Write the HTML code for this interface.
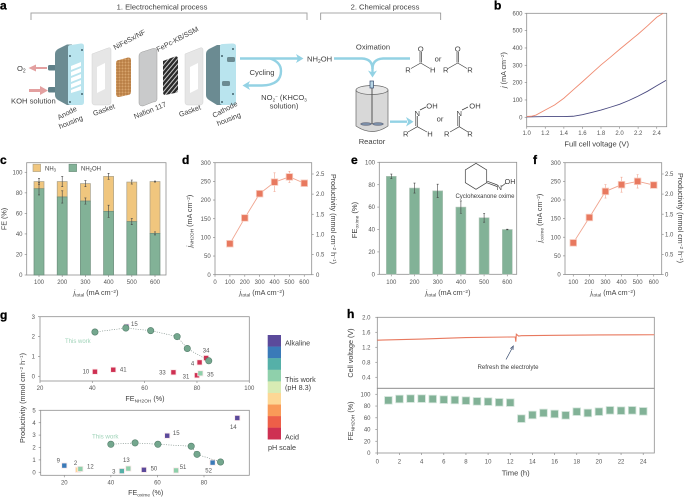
<!DOCTYPE html>
<html lang="en">
<head>
<meta charset="utf-8">
<title>Electrochemical and chemical process figure</title>
<style>
html,body{margin:0;padding:0;background:#fff;width:685px;height:498px;overflow:hidden}
svg{display:block}
text{font-family:"Liberation Sans",sans-serif;fill:#3f3f3f}
.l{font-size:7.6px}
.s{font-size:7.2px}
.p{font-size:12px;font-weight:bold;fill:#000;stroke:#000;stroke-width:.3px}
</style>
</head>
<body>
<svg id="figure" width="685" height="498" viewBox="0 0 685 498" xmlns="http://www.w3.org/2000/svg">
<defs>
<pattern id="mesh" width="3.4" height="3.4" patternUnits="userSpaceOnUse" patternTransform="rotate(40)"><rect width="3.4" height="3.4" fill="#2a2a2a"/><rect x="0" y="0" width="1" height="3.4" fill="#cfcfcf"/></pattern>
<pattern id="foam" width="3" height="3" patternUnits="userSpaceOnUse"><rect width="3" height="3" fill="#c78e54"/><circle cx="1" cy="1" r=".7" fill="#a86f38"/><circle cx="2.4" cy="2.3" r=".5" fill="#e0b481"/></pattern>
</defs>
<rect width="685" height="498" fill="#fff"/>

<!-- Panel a -->
<g id="panel-a">
<text class="p" x="0" y="9.5">a</text>
<path d="M31 20V13H307V20" fill="none" stroke="#a6a6a6" stroke-width="1"/>
<path d="M320.7 20V13H440.7V20" fill="none" stroke="#8c8c8c" stroke-width=".8"/>
<text class="l" x="162" y="9.5" text-anchor="middle">1. Electrochemical process</text>
<text class="l" x="385" y="9.5" text-anchor="middle">2. Chemical process</text>

<g>
<rect x="48" y="65" width="8" height="5.5" rx="1.5" fill="#5f8088"/>
<rect x="48" y="87" width="8" height="5.5" rx="1.5" fill="#5f8088"/>
<path d="M55 54Q55 51 58 49L67 44.5H72V105H67L58 100Q55 98 55 95Z" fill="#6b8b92"/>
<path d="M68 47Q68 45 71 45L81 43.5Q84 43.5 84 46V102Q84 105 81 105H71Q68 105 68 103Z" fill="#b9e4ee"/>
<path d="M71 66L81 62V66L71 70ZM71 72L81 68V72L71 76ZM71 78L81 74V78L71 82ZM71 84L81 80V84L71 88ZM71 90L81 86V90L71 93Z" fill="#fff"/>
<circle cx="70" cy="56" r="1" fill="#44646c"/><circle cx="82" cy="50" r="1" fill="#44646c"/><circle cx="70" cy="102" r="1" fill="#44646c"/><circle cx="82" cy="94" r="1" fill="#44646c"/>
</g>
<path d="M47 67H36V64.5L28.5 68L36 71.5V69H47Z" fill="#e3a0a0"/>
<path d="M29 89H40V86L48 90.5L40 95V92H29Z" fill="#e3a0a0"/>
<text class="l" x="17" y="71">O<tspan dy="1.5" font-size="5">2</tspan></text>
<text class="l" x="11" y="103.5">KOH solution</text>

<g>
<path d="M92 54L108 48Q111 47 111 50V102Q111 105 108 105H95Q92 105 92 102Z" fill="#e6e6e6" stroke="#d2d2d2" stroke-width=".5"/>
<path d="M97 67L105 63V89L97 93Z" fill="#fff"/>
</g>
<path d="M116 62Q117 60 119 60L128 57.5Q131 57.5 131 60V91Q131 95 128 95L119 97Q116 97 116 94Z" fill="url(#foam)"/>
<path d="M139 56Q139 53 142 52L153 48.5Q157 48 157 51V99Q157 102 153 102L143 106Q139 106 139 103Z" fill="#c9cacb" stroke="#9a9a9a" stroke-width=".5"/>
<path d="M163 61L175 56.5Q178 56 178 59V90Q178 93 175 93L165 95Q163 95 163 92Z" fill="url(#mesh)"/>
<g>
<path d="M185 54L200 48Q203 47 203 50V102Q203 105 200 105H188Q185 105 185 102Z" fill="#e6e6e6" stroke="#d2d2d2" stroke-width=".5"/>
<path d="M190 67L198 63V89L190 93Z" fill="#fff"/>
</g>
<g>
<path d="M206 54Q206 51 209 49L217 45H222V105H217L209 100Q206 98 206 95Z" fill="#6b8b92"/>
<path d="M220 46Q220 44 223 44L232 43.5Q236 43.5 236 46V102Q236 105 232 105H223Q220 105 220 103Z" fill="#b9e4ee"/>
<rect x="227" y="57" width="8" height="5" rx="1.5" fill="#6b8b92"/><rect x="222" y="81" width="8" height="5" rx="1.5" fill="#6b8b92"/>
<circle cx="222" cy="56" r="1" fill="#44646c"/><circle cx="233" cy="49" r="1" fill="#44646c"/><circle cx="222" cy="102" r="1" fill="#44646c"/><circle cx="233" cy="94" r="1" fill="#44646c"/>
</g>
<text class="s" transform="translate(115 50) rotate(-28)">NiFeSx/NF</text>
<text class="s" transform="translate(158 52) rotate(-27.5)">FePc-KB/SSM</text>
<text class="s" transform="translate(59 120) rotate(-28)">Anode</text>
<text class="s" transform="translate(60 129) rotate(-22)">housing</text>
<text class="s" transform="translate(94 116) rotate(-20)">Gasket</text>
<text class="s" transform="translate(135 119) rotate(-22)">Nafion 117</text>
<text class="s" transform="translate(180 117) rotate(-20)">Gasket</text>
<text class="s" transform="translate(214 118) rotate(-28)">Cathode</text>
<text class="s" transform="translate(218 126) rotate(-22)">housing</text>

<g fill="none" stroke="#93d2e4" stroke-width="2.4">
<path d="M240 58.5H298"/>
<path d="M270 58.5Q281 62 281 71Q281 85 262 85.5H248"/>
</g>
<path d="M296 54L303.5 58.5L296 63L298 58.5Z" fill="#93d2e4"/>
<path d="M250 81L242.5 85.5L250 90L248 85.5Z" fill="#93d2e4"/>
<text class="l" x="262" y="75" text-anchor="middle">Cycling</text>
<text class="l" x="307" y="61.5">NH<tspan dy="1.5" font-size="5">2</tspan><tspan dy="-1.5">OH</tspan></text>
<text class="l" x="284" y="100" text-anchor="middle">NO<tspan dy="1.5" font-size="4.5">2</tspan><tspan dy="-3.5" font-size="4.5">−</tspan><tspan dy="2"> (KHCO</tspan><tspan dy="1.5" font-size="4.5">3</tspan></text>
<text class="l" x="284" y="108.5" text-anchor="middle">solution)</text>
<text class="l" x="373" y="49.5" text-anchor="middle">Oximation</text>
<g fill="none" stroke="#93d2e4" stroke-width="2.4">
<path d="M334 58.5H362Q372.5 59 372.5 69V74"/>
<path d="M410 58.5H383Q372.5 59 372.5 69"/>
<path d="M390 121.7H407"/>
</g>
<path d="M368 70.5L372.5 77.5L377 70.5L372.5 72.5Z" fill="#93d2e4"/>
<path d="M406 117L413.5 121.7L406 126.5L408 121.7Z" fill="#93d2e4"/>
<g>
<path d="M356 90Q372 82 388 90V126Q372 137 356 126Z" fill="#d8d8d8" stroke="#666" stroke-width=".7"/>
<ellipse cx="372" cy="90" rx="16" ry="4.5" fill="#e6e6e6" stroke="#666" stroke-width=".7"/>
<line x1="372" y1="86" x2="372" y2="124" stroke="#555" stroke-width="1"/>
<rect x="370" y="81" width="3.5" height="7" fill="#b7d6e6" stroke="#34486c" stroke-width=".7"/>
<ellipse cx="366" cy="124" rx="5.5" ry="1.4" fill="#7b8ea8" stroke="#445" stroke-width=".4"/>
<ellipse cx="378" cy="124" rx="5.5" ry="1.4" fill="#7b8ea8" stroke="#445" stroke-width=".4"/>
</g>
<text class="l" x="372" y="144" text-anchor="middle">Reactor</text>

<g fill="none" stroke="#3f3f3f" stroke-width=".7">
<path d="M420 52V62.5M421.5 52V62.5M420.7 63L411 68.5M420.7 63L430 68.5"/>
<path d="M457 52V62.5M458.5 52V62.5M457.7 63L448 68.5M457.7 63L467 68.5"/>
<path d="M420 110L426 107M417.3 116V126.5M415.8 116V126M417.3 126.7L408 132M417.3 126.7L427 132"/>
<path d="M462 110L468 107M459.3 116V126.5M457.8 116V126M459.3 126.7L450 132M459.3 126.7L468 132"/>
</g>
<g>
<text class="l" x="420.7" y="51.5" text-anchor="middle">O</text>
<text class="l" x="408" y="72.5" text-anchor="middle">R</text>
<text class="l" x="432.7" y="72.5" text-anchor="middle">H</text>
<text class="l" x="438" y="61.5" text-anchor="middle">or</text>
<text class="l" x="457.7" y="51.5" text-anchor="middle">O</text>
<text class="l" x="445.7" y="72.5" text-anchor="middle">R</text>
<text class="l" x="470" y="72.5" text-anchor="middle">R</text>
<text class="l" x="417.3" y="116" text-anchor="middle">N</text>
<text class="l" x="432" y="108.5" text-anchor="middle">OH</text>
<text class="l" x="405.7" y="136.5" text-anchor="middle">R</text>
<text class="l" x="430" y="136.5" text-anchor="middle">H</text>
<text class="l" x="440" y="121.5" text-anchor="middle">or</text>
<text class="l" x="459.3" y="116" text-anchor="middle">N</text>
<text class="l" x="475" y="108.5" text-anchor="middle">OH</text>
<text class="l" x="446.7" y="136.5" text-anchor="middle">R</text>
<text class="l" x="470" y="136.5" text-anchor="middle">R</text>
</g>
</g>

<!-- Static labels for the charts -->
<g>
<text class="p" x="494" y="9.5">b</text>
<text class="p" x="0" y="164">c</text>
<text class="p" x="182" y="164">d</text>
<text class="p" x="351" y="164">e</text>
<text class="p" x="533" y="164">f</text>
<text class="p" x="0" y="319">g</text>
<text class="p" x="347" y="318">h</text>

<text class="s" transform="translate(506 70) rotate(-90)" text-anchor="middle"><tspan font-style="italic">j</tspan> (mA cm<tspan dy="-2" font-size="4.8">−2</tspan><tspan dy="2">)</tspan></text>
<text class="l" x="596.7" y="146.5" text-anchor="middle">Full cell voltage (V)</text>

<text class="s" transform="translate(6.5 219) rotate(-90)" text-anchor="middle">FE (%)</text>
<text class="s" x="96" y="295" text-anchor="middle"><tspan font-style="italic">j</tspan><tspan dy="1.5" font-size="4.8">total</tspan><tspan dy="-1.5"> (mA cm</tspan><tspan dy="-2" font-size="4.8">−2</tspan><tspan dy="2">)</tspan></text>
<text x="45" y="170.5" font-size="6">NH<tspan dy="1.2" font-size="4.2">3</tspan></text>
<text x="81" y="170.5" font-size="6">NH<tspan dy="1.2" font-size="4.2">2</tspan><tspan dy="-1.2">OH</tspan></text>

<text class="s" transform="translate(192 221) rotate(-90)" text-anchor="middle"><tspan font-style="italic">j</tspan><tspan dy="1.5" font-size="4.8">NH2OH</tspan><tspan dy="-1.5"> (mA cm</tspan><tspan dy="-2" font-size="4.8">−2</tspan><tspan dy="2">)</tspan></text>
<text class="s" transform="translate(331 219) rotate(90)" text-anchor="middle">Productivity (mmol cm<tspan dy="-2" font-size="4.8">−2</tspan><tspan dy="2"> h</tspan><tspan dy="-2" font-size="4.8">−1</tspan><tspan dy="2">)</tspan></text>
<text class="s" x="262" y="295" text-anchor="middle"><tspan font-style="italic">j</tspan><tspan dy="1.5" font-size="4.8">total</tspan><tspan dy="-1.5"> (mA cm</tspan><tspan dy="-2" font-size="4.8">−2</tspan><tspan dy="2">)</tspan></text>

<text class="l" transform="translate(357 220) rotate(-90)" text-anchor="middle">FE<tspan dy="1.5" font-size="4.8">oxime</tspan><tspan dy="-1.5"> (%)</tspan></text>
<text class="s" x="448" y="295" text-anchor="middle"><tspan font-style="italic">j</tspan><tspan dy="1.5" font-size="4.8">total</tspan><tspan dy="-1.5"> (mA cm</tspan><tspan dy="-2" font-size="4.8">−2</tspan><tspan dy="2">)</tspan></text>
<g fill="none" stroke="#3f3f3f" stroke-width=".7">
<path d="M476 163.3L486.7 170V182.7L476 189.3L465.3 182.7V170ZM486.7 182.7L497 186.5M487.2 181.2L497.5 185M501.5 186.5L506 183"/>
</g>
<text class="s" x="499.3" y="190" text-anchor="middle">N</text>
<text class="s" x="510" y="184" text-anchor="middle">OH</text>
<text x="485" y="198" font-size="6" text-anchor="middle">Cyclohexanone oxime</text>

<text class="s" transform="translate(542 218) rotate(-90)" text-anchor="middle"><tspan font-style="italic">j</tspan><tspan dy="1.5" font-size="4.8">oxime</tspan><tspan dy="-1.5"> (mA cm</tspan><tspan dy="-2" font-size="4.8">−2</tspan><tspan dy="2">)</tspan></text>
<text class="s" transform="translate(678 218) rotate(90)" text-anchor="middle">Productivity (mmol cm<tspan dy="-2" font-size="4.8">−2</tspan><tspan dy="2"> h</tspan><tspan dy="-2" font-size="4.8">−1</tspan><tspan dy="2">)</tspan></text>
<text class="s" x="613" y="295" text-anchor="middle"><tspan font-style="italic">j</tspan><tspan dy="1.5" font-size="4.8">total</tspan><tspan dy="-1.5"> (mA cm</tspan><tspan dy="-2" font-size="4.8">−2</tspan><tspan dy="2">)</tspan></text>

<text class="s" transform="translate(25 398) rotate(-90)" text-anchor="middle">Productivity (mmol cm<tspan dy="-2" font-size="4.8">−2</tspan><tspan dy="2"> h</tspan><tspan dy="-2" font-size="4.8">−1</tspan><tspan dy="2">)</tspan></text>
<text class="s" x="145" y="401" text-anchor="middle">FE<tspan dy="1.5" font-size="4.8">NH2OH</tspan><tspan dy="-1.5"> (%)</tspan></text>
<text class="s" x="145.7" y="495" text-anchor="middle">FE<tspan dy="1.5" font-size="4.8">oxime</tspan><tspan dy="-1.5"> (%)</tspan></text>
<text x="65" y="343" font-size="6" style="fill:#9fd3b8">This work</text>
<text x="92" y="438.5" font-size="6.2" style="fill:#9fd3b8">This work</text>

<text class="s" x="285" y="345.5">Alkaline</text>
<text class="s" x="285" y="382">This work</text>
<text class="s" x="285" y="390">(pH 8.3)</text>
<text class="s" x="285" y="439.5">Acid</text>
<text class="s" x="268" y="450">pH scale</text>

<text class="s" transform="translate(353 353) rotate(-90)" text-anchor="middle">Cell voltage (V)</text>
<text class="s" transform="translate(353 421) rotate(-90)" text-anchor="middle">FE<tspan dy="1.5" font-size="4.8">NH2OH</tspan><tspan dy="-1.5"> (%)</tspan></text>
<text class="l" x="515.7" y="475.5" text-anchor="middle">Time (h)</text>
<text x="508" y="369" font-size="6.1" text-anchor="middle">Refresh the electrolyte</text>
<path d="M506 359.5L512.5 347.5M510.3 348.6L513.3 346L513 350" fill="none" stroke="#34486c" stroke-width=".7"/>
</g>

<g id="charts"></g>

<script>
// ---------- Chart data ----------
const currentCategories = [100, 200, 300, 400, 500, 600];

const bVoltageOrange = [1.0, 1.05, 1.1, 1.2, 1.3, 1.4, 1.5, 1.6, 1.7, 1.8, 1.9, 2.0, 2.1, 2.2, 2.3, 2.4, 2.47];
const bCurrentOrange = [5, 6, 13, 42, 71, 110, 158, 205, 254, 302, 346, 392, 436, 480, 527, 577, 600];
const bVoltageBlue = [1.0, 1.2, 1.4, 1.5, 1.6, 1.7, 1.8, 1.9, 2.0, 2.1, 2.2, 2.3, 2.4, 2.5];
const bCurrentBlue = [2, 4, 4, 6, 15, 28, 42, 58, 75, 97, 122, 150, 182, 213];
const bXTicks = ['1.0', '1.2', '1.4', '1.6', '1.8', '2.0', '2.2', '2.4'];
const bYTicks = [0, 100, 200, 300, 400, 500, 600];

const cNh2oh = [84, 76, 72, 62, 52, 40.5];
const cNh2ohErr = [6, 6, 3, 6, 3, 1.5];
const cTotal = [91, 91, 89, 96, 90.5, 91];
const cTotalErr = [3, 5, 3, 3, 2, 0.5];
const feTicks = [0, 20, 40, 60, 80, 100];

const dCurrent = [83, 152, 217, 248, 262, 245];
const dErr = [3, 8, 5, 25, 15, 5];
const dXTicks = [0, 100, 200, 300, 400, 500, 600];
const jYTicks = [0, 50, 100, 150, 200, 250, 300];
const productivityTicks = ['0', '0.5', '1.0', '1.5', '2.0', '2.5'];

const eFe = [87.5, 77, 74.5, 60, 50.5, 40];
const eErr = [2, 4.5, 6, 5.5, 4, 0.3];

const fCurrent = [85, 153, 223, 241, 250, 240];
const fErr = [5, 8, 18, 20, 18, 5];

const gTopWorkFe = [41, 52.8, 62.3, 72.4, 76.3, 84.5];
const gTopWorkProd = [2.23, 2.43, 2.3, 2.0, 1.4, 0.78];
const gTopRefFe = [53, 41, 48, 71, 80, 81, 83.5, 81.3];
const gTopRefProd = [2.5, 0.23, 0.33, 0.2, 0.05, 0.7, 0.92, 0.15];
const gTopRefLabels = ['15', '10', '41', '33', '31', '4', '34', '35'];
const gTopRefColors = ['#5b4a9b', '#ce3052', '#ce3052', '#ce3052', '#ce3052', '#ce3052', '#ce3052', '#8fd0ab'];
const gTopXTicks = [20, 40, 60, 80, 100];
const gTopYTicks = [0, 1, 2, 3];

const gBotWorkFe = [40, 50.4, 60.2, 74.5, 77, 87.1];
const gBotWorkProd = [2.26, 2.37, 2.26, 2.1, 1.45, 0.83];
const gBotRefFe = [20, 25.9, 26.9, 44.7, 47.5, 54.2, 64.2, 68, 83.7, 94.3];
const gBotRefProd = [0.54, 0.2, 0.27, 0.1, 0.3, 0.2, 2.95, 0.15, 0.78, 4.38];
const gBotRefLabels = ['9', '2', '12', '3', '13', '50', '15', '51', '52', '14'];
const gBotRefColors = ['#3a7ab8', '#fdd795', '#8fd0ab', '#55b0a8', '#8fd0ab', '#5b4a9b', '#5b4a9b', '#8fd0ab', '#3a7ab8', '#5b4a9b'];
const gBotXTicks = [20, 40, 60, 80];
const gBotYTicks = [0, 1, 2, 3, 4, 5];

const phColors = ['#5b4a9b', '#3a7ab8', '#55b0a8', '#8fd0ab', '#d8ebb4', '#fdd795', '#f99a58', '#ed5f48', '#ce3052'];

const hLineTime = [0, 4, 8, 12, 12.45, 12.5, 12.55, 12.75, 13, 16, 20, 25];
const hLineVoltage = [1.39, 1.42, 1.46, 1.475, 1.475, 1.35, 1.55, 1.5, 1.51, 1.52, 1.53, 1.535];
const hVoltageTicks = ['0.4', '0.8', '1.2', '1.6', '2.0'];
const hFeHours = [1, 2, 3, 4, 5, 6, 7, 8, 9, 10, 11, 12, 13, 14, 15, 16, 17, 18, 19, 20, 21, 22, 23, 24];
const hFeValues = [89.7, 92, 92.6, 92.6, 92, 90.9, 90.3, 89.2, 88, 87.5, 86.3, 85.8, 58.5, 64.8, 68.2, 66.5, 64.2, 70.4, 68.2, 70.4, 72.7, 72.1, 72.7, 71];
const hTimeTicks = [0, 2, 4, 6, 8, 10, 12, 14, 16, 18, 20, 22, 24];
const hFeTicks = [0, 20, 40, 60, 80, 100];

// ---------- Helpers ----------
const NS = 'http://www.w3.org/2000/svg';
const charts = document.getElementById('charts');
const AXIS = '#8e8e8e';
const TICK = '#555555';
const GREEN = '#82b297';
const ORANGE = '#e8795f';

function scale(d0, d1, r0, r1) {
  return function (v) { return r0 + (v - d0) / (d1 - d0) * (r1 - r0); };
}
function make(parent, tag, attrs) {
  const e = document.createElementNS(NS, tag);
  for (const k in attrs) e.setAttribute(k, attrs[k]);
  parent.appendChild(e);
  return e;
}
function label(parent, x, y, s, anchor, size, fill) {
  const t = make(parent, 'text', { x: x, y: y, 'text-anchor': anchor, 'font-size': size || 6 });
  t.style.fill = fill || TICK;
  t.textContent = s;
  
  
  return t;
}
function panel(name) {
  const g = make(charts, 'g', {});
  
  
  return g;
}
function frame(g, x0, y0, x1, y1) {
  const r = make(g, 'rect', { x: x0, y: y0, width: x1 - x0, height: y1 - y0, fill: 'none', stroke: AXIS, 'stroke-width': 0.8 });
  
  
}
function xTicks(g, ticks, sx, axisY, textY) {
  ticks.forEach(function (v) {
    const x = sx(parseFloat(v));
    const l = make(g, 'line', { x1: x, x2: x, y1: axisY, y2: axisY + 2, stroke: AXIS, 'stroke-width': 0.7 });
    
    
    const t = label(g, x, textY, String(v), 'middle');
    
  });
}
function yTicks(g, ticks, sy, axisX, textX, side) {
  ticks.forEach(function (v) {
    const y = sy(parseFloat(v));
    const dir = side === 'right' ? 2 : -2;
    const l = make(g, 'line', { x1: axisX, x2: axisX + dir, y1: y, y2: y, stroke: AXIS, 'stroke-width': 0.7 });
    
    
    const t = label(g, textX, y + 2.1, String(v), side === 'right' ? 'start' : 'end');
    
  });
}
function polyline(g, xs, ys, sx, sy, color, width) {
  const pts = xs.map(function (v, i) { return sx(v).toFixed(2) + ',' + sy(ys[i]).toFixed(2); }).join(' ');
  return make(g, 'polyline', { points: pts, fill: 'none', stroke: color, 'stroke-width': width });
}
function errorBar(g, x, hi, lo, color) {
  const p = make(g, 'path', { d: 'M' + (x - 1) + ' ' + hi + 'H' + (x + 1) + 'M' + x + ' ' + hi + 'V' + lo + 'M' + (x - 1) + ' ' + lo + 'H' + (x + 1), fill: 'none', stroke: color, 'stroke-width': 0.6 });
  
  
}
function square(g, cx, cy, size, fill, edge) {
  return make(g, 'rect', { x: cx - size / 2, y: cy - size / 2, width: size, height: size, fill: fill, stroke: edge, 'stroke-width': 0.8 });
}

// ---------- Panel b ----------
(function () {
  const g = panel('voltage-current-chart');
  const sx = scale(1.0, 2.4, 526.7, 656.7);
  const sy = scale(0, 600, 117.3, 13.3);
  frame(g, 526.7, 13.3, 666.7, 126.7);
  xTicks(g, bXTicks, sx, 126.7, 135);
  yTicks(g, bYTicks, sy, 526.7, 522.5);
  const blue = polyline(g, bVoltageBlue, bCurrentBlue, sx, sy, '#4a4a80', 0.9);
  
  
  const orange = polyline(g, bVoltageOrange, bCurrentOrange, sx, sy, '#ef8a70', 0.9);
  
  
})();

// ---------- Panel c ----------
(function () {
  const g = panel('faradaic-efficiency-stacked-chart');
  const sx = scale(100, 600, 39, 155);
  const sy = scale(0, 100, 275, 172.3);
  frame(g, 26.7, 162.7, 166, 275);
  xTicks(g, currentCategories, sx, 275, 284);
  yTicks(g, feTicks, sy, 26.7, 22.5);
  currentCategories.forEach(function (c, i) {
    const x = sx(c);
    const top = make(g, 'rect', { x: x - 5, y: sy(cTotal[i]), width: 10, height: sy(cNh2oh[i]) - sy(cTotal[i]), fill: '#f0c67e', stroke: '#a8a08a', 'stroke-width': 0.7 });
    
    
    const bot = make(g, 'rect', { x: x - 5, y: sy(cNh2oh[i]), width: 10, height: sy(0) - sy(cNh2oh[i]), fill: GREEN, stroke: '#6d8d7c', 'stroke-width': 0.7 });
    
    
    errorBar(g, x, sy(cTotal[i] + cTotalErr[i]), sy(cTotal[i] - cTotalErr[i]), '#444');
    errorBar(g, x, sy(cNh2oh[i] + cNh2ohErr[i]), sy(cNh2oh[i] - cNh2ohErr[i]), '#444');
  });
  const k1 = make(g, 'rect', { x: 33, y: 164.2, width: 7.6, height: 7.4, fill: '#f0c67e', stroke: '#a8a08a', 'stroke-width': 0.6 });
  
  
  const k2 = make(g, 'rect', { x: 69, y: 164.2, width: 7.6, height: 7.4, fill: GREEN, stroke: '#6d8d7c', 'stroke-width': 0.6 });
  
  
})();

// ---------- Panels d and f ----------
function markerChart(name, box, sx, values, errs, xt, leftText, rightText) {
  const g = panel(name);
  const sy = scale(0, 300, box.y1, box.y0);
  const sp = scale(0, 2.5, box.y1, 174);
  frame(g, box.x0, box.y0, box.x1, box.y1);
  xTicks(g, xt, sx, box.y1, 284);
  yTicks(g, jYTicks, sy, box.x0, leftText);
  yTicks(g, productivityTicks, sp, box.x1, rightText, 'right');
  const line = polyline(g, currentCategories, values, sx, sy, '#f0a48f', 0.9);
  
  
  currentCategories.forEach(function (c, i) {
    errorBar(g, sx(c), sy(values[i] + errs[i]), sy(values[i] - errs[i]), '#f0a48f');
    const m = square(g, sx(c), sy(values[i]), 6.6, ORANGE, '#f8cfc3');
    
    
  });
}
markerChart('nh2oh-current-chart', { x0: 215, y0: 162.7, x1: 311.7, y1: 274.7 }, scale(0, 600, 215, 304.3), dCurrent, dErr, dXTicks, 210.7, 316);
markerChart('oxime-current-chart', { x0: 565, y0: 162.7, x1: 661.7, y1: 274.5 }, scale(100, 600, 573.3, 653.7), fCurrent, fErr, currentCategories, 560.7, 665);

// ---------- Panel e ----------
(function () {
  const g = panel('oxime-efficiency-chart');
  const sx = scale(100, 600, 391.3, 507.3);
  const sy = scale(0, 100, 274.3, 162.3);
  frame(g, 379.3, 162.3, 516.7, 274.3);
  xTicks(g, currentCategories, sx, 274.3, 284);
  yTicks(g, feTicks, sy, 379.3, 375);
  currentCategories.forEach(function (c, i) {
    const x = sx(c);
    const b = make(g, 'rect', { x: x - 5, y: sy(eFe[i]), width: 10, height: sy(0) - sy(eFe[i]), fill: GREEN, stroke: '#b3c5ba', 'stroke-width': 0.6 });
    
    
    errorBar(g, x, sy(eFe[i] + eErr[i]), sy(eFe[i] - eErr[i]), '#444');
  });
})();

// ---------- Panel g ----------
function scatterChart(name, box, sx, sy, xt, yt, wx, wy, rx, ry, rl, rc, offsets) {
  const g = panel(name);
  frame(g, box.x0, box.y0, box.x1, box.y1);
  xTicks(g, xt, sx, box.y1, box.y1 + 9);
  yTicks(g, yt, sy, box.x0, box.x0 - 5);
  rx.forEach(function (v, i) {
    const m = square(g, sx(v), sy(ry[i]), 5.2, rc[i], '#fbe9ea');
    
    
    const off = offsets[i];
    const t = label(g, sx(v) + off[0], sy(ry[i]) + off[1], rl[i], 'middle', 6);
    
  });
  const line = polyline(g, wx, wy, sx, sy, '#6b7f78', 0.6);
  line.setAttribute('stroke-dasharray', '1 1.4');
  
  
  wx.forEach(function (v, i) {
    const c = make(g, 'circle', { cx: sx(v), cy: sy(wy[i]), r: 3.2, fill: '#74a78e', stroke: '#557f6c', 'stroke-width': 0.6 });
    
    
  });
}
scatterChart('productivity-nh2oh-chart', { x0: 40, y0: 316.7, x1: 249.3, y1: 381 },
  scale(20, 100, 40, 249.3), scale(0, 3, 376.3, 316.7), gTopXTicks, gTopYTicks, gTopWorkFe, gTopWorkProd,
  gTopRefFe, gTopRefProd, gTopRefLabels, gTopRefColors,
  [[8, -0.5], [-9, 2], [10, 2], [-11, 2], [-11, 3], [-7, 3], [0, -5.5], [10, 3]]);
scatterChart('productivity-oxime-chart', { x0: 40.7, y0: 410.3, x1: 249.3, y1: 475.3 },
  scale(20, 80, 64.3, 204), scale(0, 5, 472.3, 410.3), gBotXTicks, gBotYTicks, gBotWorkFe, gBotWorkProd,
  gBotRefFe, gBotRefProd, gBotRefLabels, gBotRefColors,
  [[-6, -3], [-2.5, -5], [10, -0.5], [-8, 2.5], [-2, -6.5], [10, 0.5], [9, -0.5], [7, -1.5], [-4, 10], [-4, 11]]);

// ---------- pH scale ----------
(function () {
  const g = panel('ph-scale-bar');
  const sy = scale(0, phColors.length, 335, 439.3);
  phColors.forEach(function (c, i) {
    const r = make(g, 'rect', { x: 267.7, y: sy(i), width: 13.3, height: sy(1) - sy(0) + 0.2, fill: c });
    
    
  });
})();

// ---------- Panel h ----------
(function () {
  const g = panel('stability-chart');
  const sx = scale(0, 25, 377.3, 654.3);
  const sv = scale(0, 2, 392.3, 317.3);
  const sf = scale(0, 100, 453, 394.3);
  frame(g, 377.3, 317.3, 654.3, 388.3);
  frame(g, 377.3, 388.3, 654.3, 453);
  yTicks(g, hVoltageTicks, sv, 377.3, 370.5);
  yTicks(g, hFeTicks, sf, 377.3, 370.5);
  xTicks(g, hTimeTicks, sx, 453, 463.5);
  const line = polyline(g, hLineTime, hLineVoltage, sx, sv, '#e8795f', 1.1);
  
  
  hFeHours.forEach(function (h, i) {
    const m = square(g, sx(h), sf(hFeValues[i]), 7.6, GREEN, '#d3e4da');
    
    
  });
})();
</script>
</svg>
</body>
</html>
